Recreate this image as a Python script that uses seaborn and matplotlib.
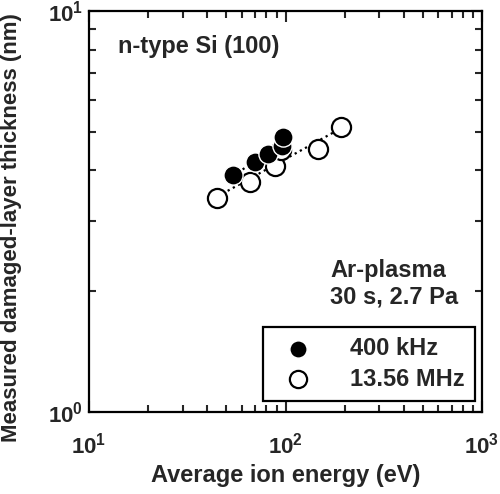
import matplotlib
matplotlib.use('Agg')
import matplotlib.pyplot as plt
import numpy as np
import pandas as pd
import seaborn as sns
from matplotlib.ticker import LogLocator, FixedLocator, FixedFormatter, NullFormatter

# values
energy_400k = [54, 70, 81.5, 96, 97]
thick_400k = [3.90, 4.20, 4.40, 4.61, 4.85]
energy_13m = [45, 66, 88, 95, 146, 191]
thick_13m = [3.42, 3.75, 4.11, 4.50, 4.53, 5.14]
series_labels = ['400 kHz', '13.56 MHz']

sns.set_style('ticks')
plt.rcParams['font.family'] = ['Liberation Sans', 'DejaVu Sans']
plt.rcParams['font.weight'] = 'bold'
plt.rcParams['mathtext.fontset'] = 'custom'
plt.rcParams['mathtext.rm'] = 'Liberation Sans:bold'
plt.rcParams['mathtext.bf'] = 'Liberation Sans:bold'
plt.rcParams['mathtext.default'] = 'bf'

df_400k = pd.DataFrame({'energy': energy_400k, 'thick': thick_400k})
df_13m = pd.DataFrame({'energy': energy_13m, 'thick': thick_13m})

fig = plt.figure(figsize=(5, 4.94), dpi=100)
ax = fig.add_axes([0.178, 0.166, 0.786, 0.812])
ax.set_xscale('log')
ax.set_yscale('log')

# dotted power-law fit lines
for df in (df_400k, df_13m):
    k, b = np.polyfit(np.log10(df['energy']), np.log10(df['thick']), 1)
    xs = np.array([df['energy'].min(), df['energy'].max()])
    ax.plot(xs, 10 ** (k * np.log10(xs) + b), ls=':', color='black', lw=1.6, zorder=2)

sns.scatterplot(data=df_13m, x='energy', y='thick', ax=ax, s=190, color='white',
                edgecolor='black', linewidth=1.6, label=series_labels[1], zorder=3)
sns.scatterplot(data=df_400k, x='energy', y='thick', ax=ax, s=190, color='black',
                edgecolor='white', linewidth=1.0, label=series_labels[0], zorder=4)

ax.set_xlim(10, 1000)
ax.set_ylim(1, 10)
ax.xaxis.set_major_locator(FixedLocator([10, 100, 1000]))
ax.xaxis.set_major_formatter(FixedFormatter([r'$10^{1}$', r'$10^{2}$', r'$10^{3}$']))
ax.yaxis.set_major_locator(FixedLocator([1, 10]))
ax.yaxis.set_major_formatter(FixedFormatter([r'$10^{0}$', r'$10^{1}$']))
ax.xaxis.set_minor_locator(LogLocator(base=10, subs=np.arange(2, 10)))
ax.yaxis.set_minor_locator(LogLocator(base=10, subs=np.arange(2, 10)))
ax.xaxis.set_minor_formatter(NullFormatter())
ax.yaxis.set_minor_formatter(NullFormatter())
ax.tick_params(which='both', direction='in', top=True, right=True, width=1.5,
               labelsize=16)
ax.tick_params(axis='x', which='major', pad=15)
ax.tick_params(axis='y', which='major', pad=4)
ax.tick_params(which='major', length=8)
ax.tick_params(which='minor', length=5)
for sp in ax.spines.values():
    sp.set_linewidth(1.6)
    sp.set_color('black')

ax.set_xlabel('Average ion energy (eV)', fontsize=17, fontweight='bold')
ax.set_ylabel('Measured damaged-layer thickness (nm)', fontsize=16, fontweight='bold')
ax.xaxis.set_label_coords(0.5, -0.13)
ax.yaxis.set_label_coords(-0.17, 0.46)

ax.text(0.074, 0.91, 'n-type Si (100)', transform=ax.transAxes, fontsize=17,
        fontweight='bold', va='center')
ax.text(0.613, 0.319, 'Ar-plasma\n30 s, 2.7 Pa', transform=ax.transAxes, fontsize=17,
        fontweight='bold', va='center', linespacing=1.2)

handles, labels = ax.get_legend_handles_labels()
order = [labels.index(s) for s in series_labels]
leg = ax.legend([handles[i] for i in order], [labels[i] for i in order],
                loc='lower right', bbox_to_anchor=(0.982, 0.027), frameon=True,
                fancybox=False, edgecolor='black', handletextpad=1.2,
                borderpad=0.45, labelspacing=0.3, markerscale=0.9,
                borderaxespad=0, prop={'weight': 'bold', 'size': 17})
leg.get_frame().set_linewidth(1.6)
leg.get_frame().set_alpha(1)

fig.savefig('out.png', dpi=100)
